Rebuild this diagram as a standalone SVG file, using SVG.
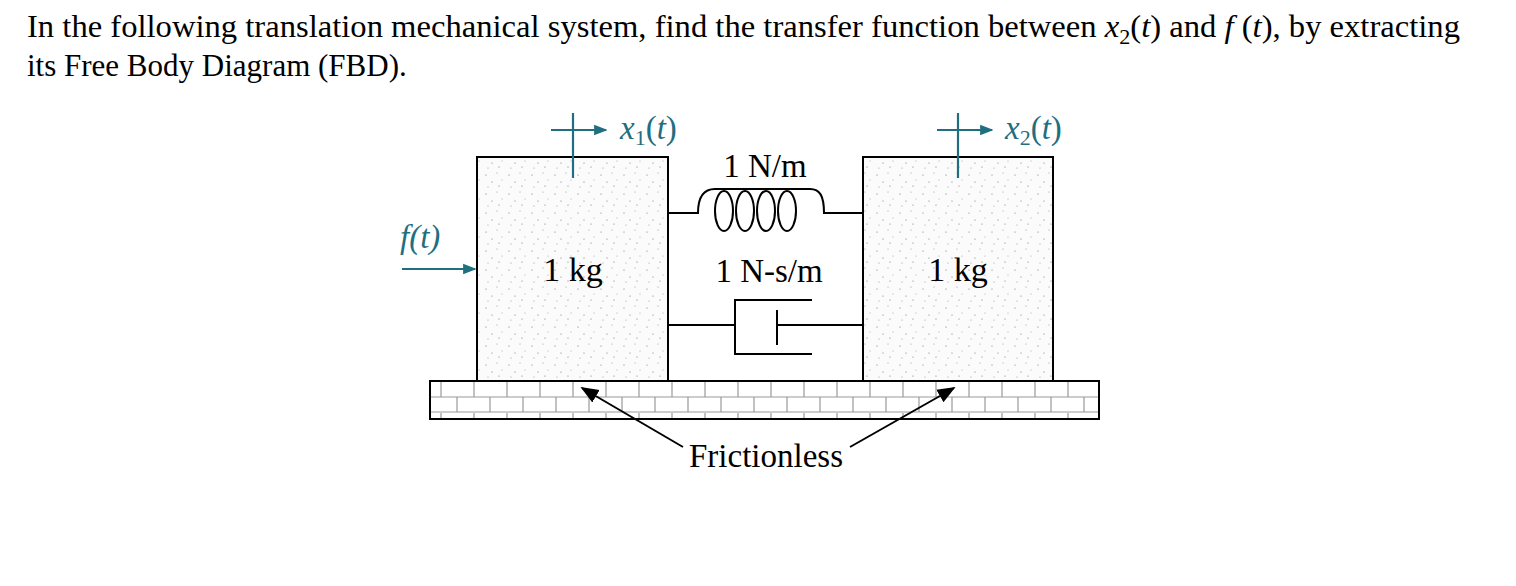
<svg xmlns="http://www.w3.org/2000/svg" width="1516" height="586" viewBox="0 0 1516 586">
<style>
.t{font-family:"Liberation Serif",serif;fill:#000}
.ti{font-family:"Liberation Serif",serif;font-style:italic}
.ln{stroke:#000;stroke-width:2;fill:none}
.tl{stroke:#1f6f80;stroke-width:2.2;fill:none}
.tx{fill:#1f6f80;font-family:"Liberation Serif",serif;font-size:33px}
</style>
<defs>
<pattern id="dots" width="23" height="19" patternUnits="userSpaceOnUse">
<rect width="23" height="19" fill="#fbfbfb"/>
<circle cx="3" cy="4" r="0.6" fill="#777"/><circle cx="14" cy="2" r="0.5" fill="#888"/>
<circle cx="9" cy="11" r="0.6" fill="#777"/><circle cx="19" cy="9" r="0.5" fill="#999"/>
<circle cx="5" cy="16" r="0.5" fill="#888"/><circle cx="16" cy="15" r="0.6" fill="#777"/>
</pattern>
<pattern id="brick" x="430" y="381" width="66" height="32" patternUnits="userSpaceOnUse">
<rect width="66" height="32" fill="#fff"/>
<path d="M0 16H66M0 31H66M11 0V16M44 0V16M27 16V31M60 16V31" stroke="#999" stroke-width="1.2"/>
</pattern>
<marker id="ta" viewBox="0 0 10 10" refX="9" refY="5" markerWidth="6" markerHeight="6" orient="auto"><path d="M0 1L10 5L0 9z" fill="#1f6f80"/></marker>
<marker id="ba" viewBox="0 0 10 10" refX="9" refY="5" markerWidth="9" markerHeight="9" orient="auto"><path d="M0 1L10 5L0 9z" fill="#000"/></marker>
</defs>
<text class="t" x="27" y="37" font-size="31" textLength="1433" lengthAdjust="spacingAndGlyphs">In the following translation mechanical system, find the transfer function between <tspan class="ti">x</tspan><tspan font-size="21" dy="7">2</tspan><tspan dy="-7">(</tspan><tspan class="ti">t</tspan>) and <tspan class="ti">f</tspan> (<tspan class="ti">t</tspan>), by extracting</text>
<text class="t" x="27" y="76" font-size="31">its Free Body Diagram (FBD).</text>
<g id="ground"><rect x="430" y="381" width="669" height="38" fill="url(#brick)" stroke="#000" stroke-width="2"/></g>
<g id="mass1"><rect x="477" y="157" width="191" height="224" fill="url(#dots)" stroke="#000" stroke-width="2"/><text class="t" x="573" y="281" font-size="34" text-anchor="middle">1 kg</text></g>
<g id="mass2"><rect x="863" y="157" width="190" height="224" fill="url(#dots)" stroke="#000" stroke-width="2"/><text class="t" x="958" y="281" font-size="34" text-anchor="middle">1 kg</text></g>
<g id="spring">
<path class="ln" d="M668 213H698C698 196 705 189 715 189H810C820 189 824 196 824 213H863"/>
<g class="ln"><ellipse cx="724" cy="211" rx="9" ry="20"/><ellipse cx="745" cy="211" rx="9" ry="20"/><ellipse cx="766" cy="211" rx="9" ry="20"/><ellipse cx="787" cy="211" rx="9" ry="20"/></g>
<text class="t" x="765" y="177" font-size="33" text-anchor="middle">1 N/m</text>
</g>
<g id="damper">
<path class="ln" d="M668 325H735M812 300H735V354H812M777 310V345M777 325H863"/>
<text class="t" x="769" y="282" font-size="33" text-anchor="middle">1 N-s/m</text>
</g>
<g id="connectors">
<line class="tl" x1="402" y1="269" x2="475" y2="269" marker-end="url(#ta)"/>
<line class="tl" x1="573" y1="113" x2="573" y2="178"/><line class="tl" x1="551" y1="130" x2="606" y2="130" marker-end="url(#ta)"/>
<line class="tl" x1="958" y1="113" x2="958" y2="178"/><line class="tl" x1="937" y1="130" x2="992" y2="130" marker-end="url(#ta)"/>
<line class="ln" x1="683" y1="447" x2="582" y2="388" marker-end="url(#ba)"/>
<line class="ln" x1="850" y1="447" x2="954" y2="388" marker-end="url(#ba)"/>
</g>
<text class="tx" x="400" y="248" font-style="italic">f(t)</text>
<text class="tx" x="620" y="139"><tspan font-style="italic">x</tspan><tspan font-size="22" dy="6">1</tspan><tspan dy="-6">(</tspan><tspan font-style="italic">t</tspan>)</text>
<text class="tx" x="1005" y="139"><tspan font-style="italic">x</tspan><tspan font-size="22" dy="6">2</tspan><tspan dy="-6">(</tspan><tspan font-style="italic">t</tspan>)</text>
<text class="t" x="766" y="467" font-size="33" text-anchor="middle">Frictionless</text>
</svg>
